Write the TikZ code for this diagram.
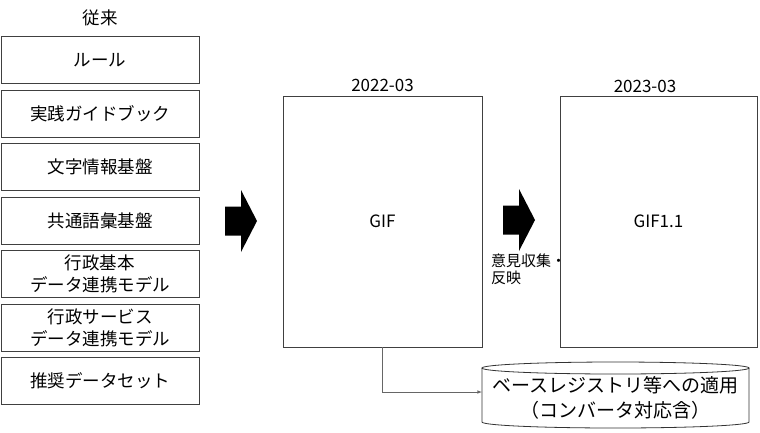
\documentclass[tikz,border=0pt]{standalone}
\usepackage{fontspec}
\setmainfont{Noto Sans CJK JP}
\usetikzlibrary{positioning}

\begin{document}
\begin{tikzpicture}[x=1pt, y=-1pt, >=latex,
    box/.style={draw=black!75, line width=0.9pt, minimum width=198pt, minimum height=47pt, align=center, inner sep=1pt, font=\fontsize{17.5}{22}\selectfont},
    panel/.style={draw=black!75, line width=0.9pt, minimum height=251pt, font=\fontsize{17}{20}\selectfont},
    stamp/.style={font=\fontsize{17}{20}\selectfont}]
  \useasboundingbox (0,0) rectangle (760,432);
  % left column
  \node[font=\fontsize{17.5}{20}\selectfont] (old) at (100,18) {従来};
  \foreach \t [count=\i from 0] in {ルール, 実践ガイドブック, 文字情報基盤, 共通語彙基盤,
      {行政基本\\データ連携モデル}, {行政サービス\\データ連携モデル}, 推奨データセット} {
    \node[box] (old\i) at (100, 60+53.5*\i) {\t};
  }
  % block arrows
  \foreach \ax/\ay in {225/221, 503/220} {
    \fill[black] (\ax,\ay-14.5) -- ++(16,0) -- ++(0,-16.5) -- ++(16,31) -- ++(-16,31)
      -- ++(0,-16.5) -- ++(-16,0) -- cycle;
  }
  % versions
  \node[panel, minimum width=199pt] (gif) at (382.5,221.5) {GIF};
  \node[panel, minimum width=197pt] (gifnew) at (658.5,221.5) {GIF1.1};
  \node[stamp, above=0pt of gif] (gifdate) {2022-03};
  \node[stamp] (gifnewdate) at (645,86) {2023-03};
  \node[font=\fontsize{15}{17}\selectfont, align=left, inner sep=0pt, anchor=west] (voice) at (491,269.5) {意見収集・\\反映};
  % base registry
  \fill[white] (482,368) -- (482,422) arc[start angle=180, end angle=0, x radius=133.5, y radius=6] -- (749,368) -- cycle;
  \draw[black!80, line width=0.8pt] (482,368) -- (482,422) arc[start angle=180, end angle=0, x radius=133.5, y radius=6] -- (749,368);
  \draw[black!80, line width=0.8pt] (615.5,368) ellipse[x radius=133.5, y radius=6];
  \node[font=\fontsize{19}{25}\selectfont, align=center] (base) at (615.5,397.5) {ベースレジストリ等への適用\\（コンバータ対応含）};
  \coordinate (basein) at (482,392);
  \draw[->, black!60, line width=0.6pt] (gif.south) |- (basein);
\end{tikzpicture}
\end{document}
